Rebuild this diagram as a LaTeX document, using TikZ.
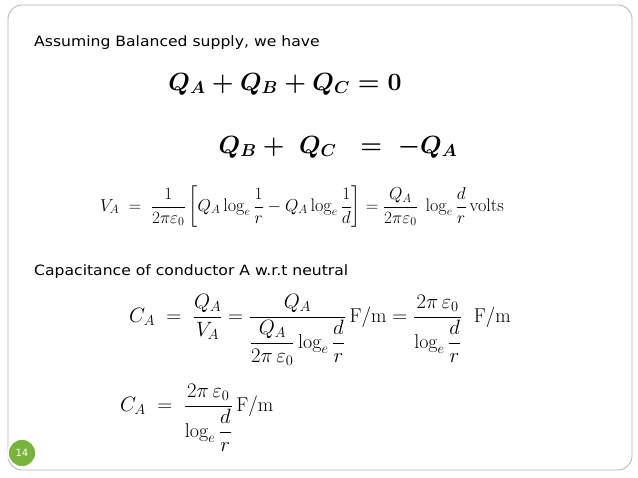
\documentclass[tikz,border=0pt]{standalone}
\usepackage{fontspec}
\usepackage{amsmath}
\newfontfamily\slidefont{DejaVu Sans}
\definecolor{pgc}{RGB}{120,180,60}
\begin{document}
\begin{tikzpicture}[x=1pt,y=-1pt,
  txt/.style={anchor=west,inner sep=0pt,font=\slidefont\fontsize{14.2}{16}\selectfont},
  eq/.style={inner sep=0pt,font=\fontsize{27}{30}\selectfont\bfseries},
  eqs/.style={inner sep=0pt,font=\fontsize{18.2}{21}\selectfont},
  eqm/.style={inner sep=0pt,font=\fontsize{20}{23}\selectfont}]
\useasboundingbox (0,0) rectangle (638,478);
\draw[gray!60,line width=0.8pt,rounded corners=14pt] (8,5) rectangle (632,470);
\node[txt,xscale=1.1] (t1) at (34,43) {Assuming Balanced supply, we have};
\node[eq] (e1) at (285,84) {$\boldsymbol{Q_A+Q_B+Q_C=0}$};
\node[eq] (e2) at (338,147) {$\boldsymbol{Q_B+\;Q_C\;\;=\;-Q_A}$};
\node[eqs] (e3) at (302,207) {$V_A\;=\;\dfrac{1}{2\pi\varepsilon_0}\left[Q_A\log_e\dfrac{1}{r}-Q_A\log_e\dfrac{1}{d}\right]=\dfrac{Q_A}{2\pi\varepsilon_0}\;\log_e\dfrac{d}{r}\,\text{volts}$};
\node[txt,xscale=1.1] (t2) at (34,272) {Capacitance of conductor A w.r.t neutral};
\node[eqm] (e4) at (320,330) {$C_A\;=\;\dfrac{Q_A}{V_A}=\dfrac{Q_A}{\dfrac{Q_A}{2\pi\,\varepsilon_0}\log_e\dfrac{d}{r}}\,\mathrm{F/m}=\dfrac{2\pi\,\varepsilon_0}{\log_e\dfrac{d}{r}}\;\;\mathrm{F/m}$};
\node[eqm,anchor=west] (e5) at (120,418) {$C_A\;=\;\dfrac{2\pi\,\varepsilon_0}{\log_e\dfrac{d}{r}}\,\mathrm{F/m}$};
\node[circle,fill=pgc,draw=white,line width=1.5pt,minimum size=28pt,inner sep=0pt,text=white,font=\slidefont\fontsize{10}{12}\selectfont] (pg) at (22,453) {14};
\end{tikzpicture}
\end{document}
